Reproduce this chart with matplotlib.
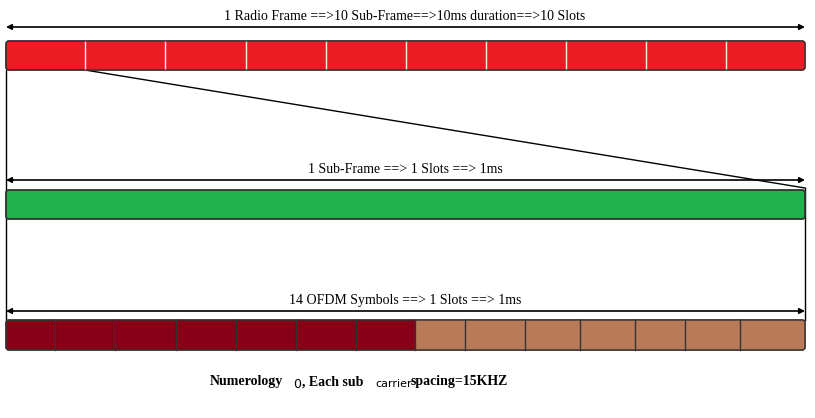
import matplotlib
matplotlib.use("Agg")
import matplotlib.pyplot as plt
from matplotlib.patches import FancyBboxPatch, Rectangle

# cell edges (pixel coordinates)
frame_edges = [6, 85, 165, 246, 326, 406, 486, 566, 646, 726, 805]
slot_edges = [6, 805]
symbol_edges = [6, 55, 115, 176, 236, 296, 356, 415, 465, 525, 580, 635, 685, 740, 805]
labels = ["1 Radio Frame ==>10 Sub-Frame==>10ms duration==>10 Slots",
          "1 Sub-Frame ==> 1 Slots ==> 1ms",
          "14 OFDM Symbols ==> 1 Slots ==> 1ms"]

fig = plt.figure(figsize=(8.15, 4.18), dpi=100)
ax = fig.add_axes([0, 0, 1, 1])
ax.set_xlim(0, 815)
ax.set_ylim(418, 0)
ax.axis("off")
plt.rcParams['font.family'] = ['Liberation Serif', 'DejaVu Serif']

def bar(edges, y0, y1, colors, sep):
    ax.add_patch(FancyBboxPatch((edges[0], y0), edges[-1] - edges[0], y1 - y0,
                                boxstyle="round,pad=0,rounding_size=3",
                                fc=colors[0], ec="#333333", lw=1, zorder=2))
    for i in range(len(edges) - 1):
        c = colors[i] if i < len(colors) else colors[-1]
        if i > 0:
            ax.add_patch(Rectangle((edges[i], y0), edges[i + 1] - edges[i], y1 - y0,
                                   fc=c, ec="none", zorder=2))
            ax.plot([edges[i], edges[i]], [y0, y1], color=sep, lw=1, zorder=3)
    # redraw outline
    ax.add_patch(FancyBboxPatch((edges[0], y0), edges[-1] - edges[0], y1 - y0,
                                boxstyle="round,pad=0,rounding_size=3",
                                fc="none", ec="#333333", lw=1, zorder=4))

def arrow(y, text):
    ax.annotate("", xy=(805, y), xytext=(6, y),
                arrowprops=dict(arrowstyle="<|-|>", color="black", lw=1.2,
                                mutation_scale=8, shrinkA=0, shrinkB=0))
    ax.text(405, y - 4, text, ha="center", va="bottom", fontsize=10)

# connector lines
ax.plot([6, 6], [70, 320], color="black", lw=1, zorder=1)
ax.plot([805, 805], [188, 320], color="black", lw=1, zorder=1)
ax.plot([85, 805], [70, 188], color="black", lw=1, zorder=1)

arrow(27, labels[0])
bar(frame_edges, 41, 70, ["#ed1c24"] * 10, "#f0f0f0")
arrow(180, labels[1])
bar(slot_edges, 190, 219, ["#22b14c"], "#333333")
arrow(311, labels[2])
bar(symbol_edges, 320, 350, ["#880015"] * 7 + ["#b97a57"] * 7, "#333333")

ax.text(210, 382, "Numerology", fontsize=10, fontweight="bold", va="center", ha="left")
ax.text(293, 385, "0", fontsize=9, va="center", ha="left", family="DejaVu Sans")
ax.text(302, 382, ", Each sub", fontsize=10, fontweight="bold", va="center", ha="left")
ax.text(375, 384, "carrier", fontsize=8, va="center", ha="left", family="DejaVu Sans")
ax.text(411, 382, "spacing=15KHZ", fontsize=10, fontweight="bold", va="center", ha="left")

fig.savefig("out.png", dpi=100)
